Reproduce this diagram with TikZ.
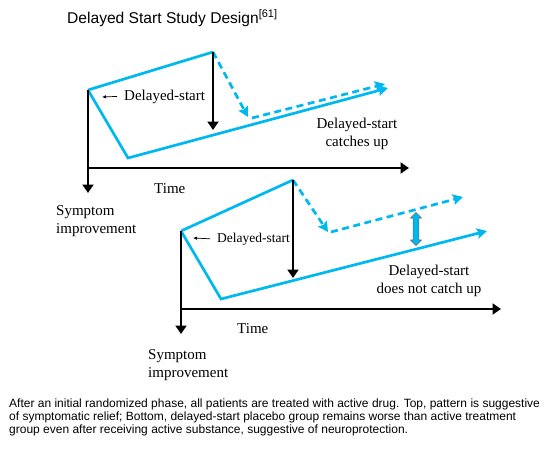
\documentclass[tikz,border=0pt]{standalone}
\usepackage{fontspec}
\setmainfont{Liberation Serif}
\newfontfamily\headfont{Liberation Sans}
\usetikzlibrary{arrows.meta,shapes.arrows,positioning}
\definecolor{skyline}{RGB}{0,184,240}
\tikzstyle{curve} = [draw, skyline, line width=2.7pt, line join=miter]
\tikzstyle{curvetip} = [-{Stealth[length=10pt,width=10.5pt,inset=1.5pt]}]
\tikzstyle{dashcurve} = [curve, curvetip, dash pattern=on 7pt off 4.5pt]
\tikzstyle{axis} = [draw, line width=2.2pt, -{Triangle[length=8.5pt,width=11pt]}]
\tikzstyle{pointer} = [draw, line width=0.7pt, -{Latex[length=4pt,width=3.5pt]}]
\tikzset{
  note/.style     = {inner sep=0pt, font=\fontsize{15}{17.5}\selectfont},
  smallnote/.style = {note, font=\fontsize{13.5}{16}\selectfont},
  caption/.style  = {inner sep=0pt, align=left, font=\headfont\fontsize{12}{13}\selectfont},
  gapmark/.style  = {double arrow, draw=black!60, fill=skyline, line width=0.6pt,
                     inner xsep=0pt, inner ysep=2.6pt, double arrow head extend=2.6pt}
}

\begin{document}
\begin{tikzpicture}[x=1pt,y=-1pt]
	\useasboundingbox (0,0) rectangle (550,450);
	% Title
	\node [anchor=base west, inner sep=0pt, font=\headfont\fontsize{15.6}{18}\selectfont] (title) at (67,23) {Delayed Start Study Design\textsuperscript{[61]}};
	% Top panel
	\coordinate (topO) at (88,90);
	\coordinate (topLow) at (128,158);
	\coordinate (topEnd) at (388,88);
	\coordinate (topPeak) at (213,52);
	\coordinate (topDrop) at (213,130);
	\coordinate (topVee) at (248,117);
	\coordinate (topVeeB) at (252,118);
	\coordinate (topDashEnd) at (385,84);
	\coordinate (topX) at (88,168);
	\coordinate (topXEnd) at (409,168);
	\coordinate (topYEnd) at (88,193);
	\path [curve, curvetip] (topO) -- (topLow) -- (topEnd);
	\path [curve] (topO) -- (topPeak);
	\path [dashcurve] (topPeak) -- (topVee);
	\path [dashcurve] (topVeeB) -- (topDashEnd);
	\path [axis] (topPeak) -- (topDrop);
	\path [axis] (topO) -- (topYEnd);
	\path [axis, shorten <=-1pt] (topX) -- (topXEnd);
	\node [note, anchor=base west] (topStart) at (124,100) {Delayed-start};
	\coordinate (topStartTip) at (102,97);
	\path [pointer] ([xshift=-7pt]topStart.west) -- (topStartTip);
	\node [note, anchor=base, align=center] (topCatch) at (357,146) {Delayed-start\\catches up};
	\node [note, anchor=base west] (topTime) at (154,193) {Time};
	\node [note, anchor=base west, align=left] (topSymptom) at (56,233) {Symptom\\improvement};
	% Bottom panel
	\coordinate (botO) at (181,231);
	\coordinate (botLow) at (221,299);
	\coordinate (botEnd) at (487,231);
	\coordinate (botPeak) at (293,180);
	\coordinate (botDrop) at (293,278);
	\coordinate (botVee) at (328,232);
	\coordinate (botVeeB) at (331,232);
	\coordinate (botDashEnd) at (463,197);
	\coordinate (botX) at (181,309);
	\coordinate (botXEnd) at (501,309);
	\coordinate (botYEnd) at (181,334);
	\path [curve, curvetip] (botO) -- (botLow) -- (botEnd);
	\path [curve] (botO) -- (botPeak);
	\path [dashcurve] (botPeak) -- (botVee);
	\path [dashcurve] (botVeeB) -- (botDashEnd);
	\path [axis] (botPeak) -- (botDrop);
	\path [axis] (botO) -- (botYEnd);
	\path [axis, shorten <=-1pt] (botX) -- (botXEnd);
	\node [gapmark, rotate=90, minimum height=33pt] (botGap) at (416,229) {};
	\node [smallnote, anchor=base west] (botStart) at (217,242) {Delayed-start};
	\coordinate (botStartTip) at (193,238);
	\path [pointer] ([xshift=-7pt]botStart.west) -- (botStartTip);
	\node [note, anchor=base, align=center] (botCatch) at (429,293) {Delayed-start\\does not catch up};
	\node [note, anchor=base west] (botTime) at (237,333) {Time};
	\node [note, anchor=base west, align=left] (botSymptom) at (148,377) {Symptom\\improvement};
	% Caption
	\node [caption, anchor=base west] (legend) at (9,433) {After an initial randomized phase, all patients are treated with active drug. Top, pattern is suggestive\\of symptomatic relief; Bottom, delayed-start placebo group remains worse than active treatment\\group even after receiving active substance, suggestive of neuroprotection.};
\end{tikzpicture}
\end{document}
